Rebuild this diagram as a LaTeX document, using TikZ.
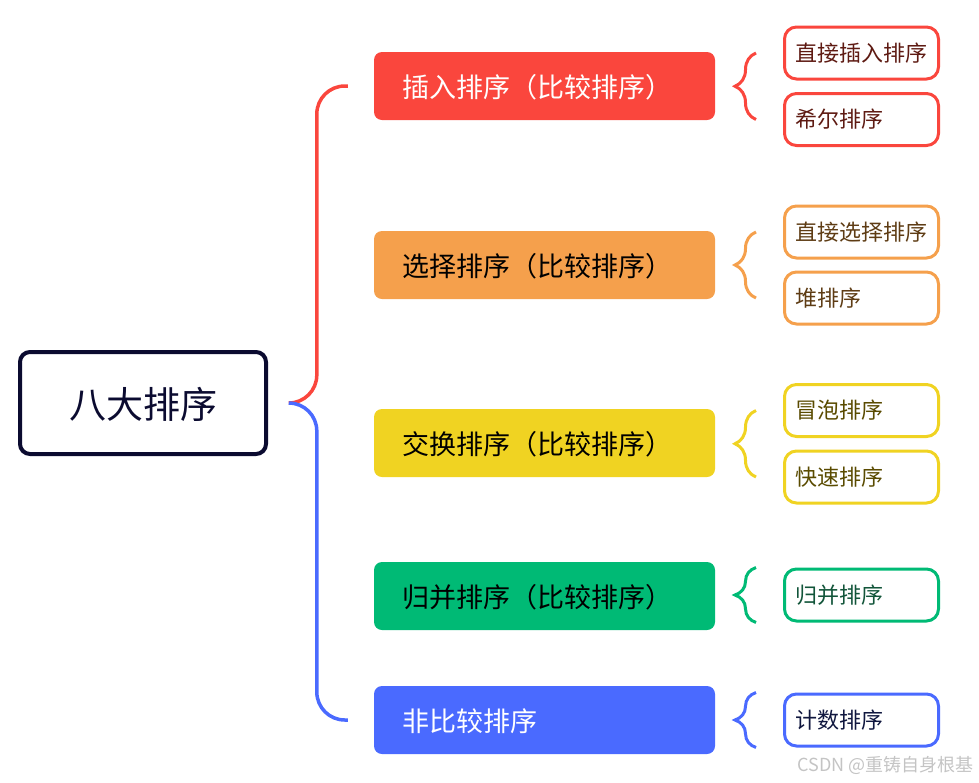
\documentclass[tikz,border=0pt]{standalone}
\usepackage{fontspec}
\usepackage{xcolor}
\usepackage{tikz}
\usetikzlibrary{decorations.pathreplacing}
\newfontfamily\cjk{Noto Sans CJK SC}
\definecolor{rootline}{HTML}{0B0B30}
\definecolor{cRed}{HTML}{FA463D}
\definecolor{cOrange}{HTML}{F5A04C}
\definecolor{cYellow}{HTML}{F0D322}
\definecolor{cGreen}{HTML}{00BA75}
\definecolor{cBlue}{HTML}{4A6AFF}
\definecolor{tRed}{HTML}{5E1A12}
\definecolor{tOrange}{HTML}{5E3C14}
\definecolor{tYellow}{HTML}{5A4B00}
\definecolor{tGreen}{HTML}{12553A}
\definecolor{tBlue}{HTML}{10173F}
\definecolor{wmgray}{HTML}{C4C4C4}
\tikzset{
  rootbox/.style={draw=rootline, line width=4pt, rounded corners=10pt, minimum width=246pt, minimum height=102pt, text depth=0pt, text=rootline, font=\cjk\fontsize{37}{44}\selectfont},
  sortbox/.style 2 args={fill=#1, text=#2, rounded corners=8pt, minimum width=341pt, minimum height=68pt, inner xsep=28pt, text width=285pt, text depth=0pt, align=left, font=\cjk\fontsize{27}{32}\selectfont},
  leafbox/.style 2 args={draw=#1, text=#2, line width=3pt, fill=white, rounded corners=12pt, minimum width=154pt, minimum height=52pt, inner xsep=10.5pt, text width=133pt, align=left, font=\cjk\fontsize{22}{26}\selectfont},
  trunk/.style={draw=#1, line width=3.5pt, rounded corners=28pt},
  bracket/.style={draw=#1, line width=3pt, decorate, decoration={brace, amplitude=21pt}},
}
\begin{document}
\begin{tikzpicture}[x=1pt, y=-1pt]
\useasboundingbox (0,0) rectangle (979,782);

% root
\node[rootbox] (root) at (143,403) {八大排序};
\coordinate (rootout) at ([xshift=21pt]root.east);

% first level
\node[sortbox={cRed}{white}] (ins) at (544.5,86) {插入排序（比较排序）};
\node[sortbox={cOrange}{black}] (sel) at (544.5,265) {选择排序（比较排序）};
\node[sortbox={cYellow}{black}] (swp) at (544.5,443) {交换排序（比较排序）};
\node[sortbox={cGreen}{black}] (mrg) at (544.5,596) {归并排序（比较排序）};
\node[sortbox={cBlue}{white}] (nbj) at (544.5,720) {非比较排序};

\draw[trunk=cRed] (rootout) -| ([xshift=-57pt]ins.west) -- ([xshift=-26pt]ins.west);
\draw[trunk=cBlue] (rootout) -| ([xshift=-57pt]nbj.west) -- ([xshift=-26pt]nbj.west);

% second level
\node[leafbox={cRed}{tRed}] (zjcr) at (861.5,53) {直接插入排序};
\node[leafbox={cRed}{tRed}] (xe) at (861.5,119.5) {希尔排序};
\node[leafbox={cOrange}{tOrange}] (zjxz) at (861.5,232) {直接选择排序};
\node[leafbox={cOrange}{tOrange}] (dui) at (861.5,298) {堆排序};
\node[leafbox={cYellow}{tYellow}] (mp) at (861.5,410.5) {冒泡排序};
\node[leafbox={cYellow}{tYellow}] (ks) at (861.5,477) {快速排序};
\node[leafbox={cGreen}{tGreen}] (gb) at (861.5,595) {归并排序};
\node[leafbox={cBlue}{tBlue}] (js) at (861.5,720) {计数排序};

% braces
\draw[bracket=cRed] ([xshift=-27pt]xe.west) -- ([xshift=-27pt]zjcr.west);
\draw[bracket=cOrange] ([xshift=-27pt]dui.west) -- ([xshift=-27pt]zjxz.west);
\draw[bracket=cYellow] ([xshift=-27pt]ks.west) -- ([xshift=-27pt]mp.west);
\draw[bracket=cGreen] ([xshift=-27pt]gb.south west) -- ([xshift=-27pt]gb.north west);
\draw[bracket=cBlue] ([xshift=-27pt]js.south west) -- ([xshift=-27pt]js.north west);

% watermark
\node[anchor=east, text=wmgray, font=\cjk\fontsize{18}{20}\selectfont] (csdn) at (977,765) {CSDN @重铸自身根基};
\end{tikzpicture}
\end{document}
